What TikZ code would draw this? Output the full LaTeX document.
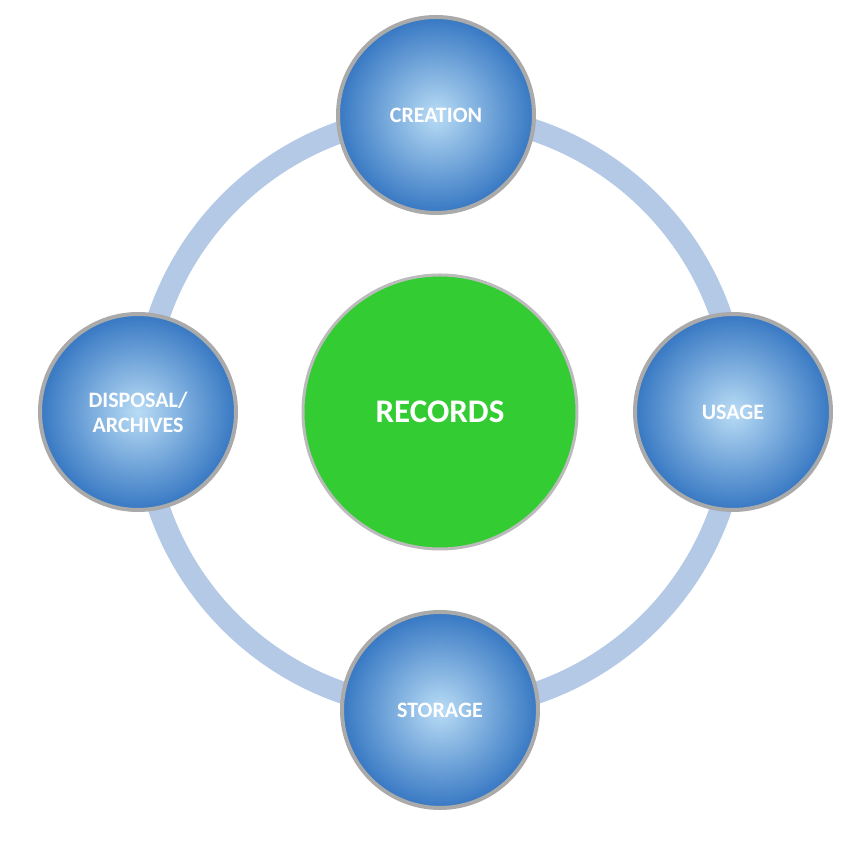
\documentclass[tikz,border=0pt]{standalone}
\usepackage{fontspec}
\setmainfont{Carlito}
\definecolor{ringc}{RGB}{180,201,230}
\definecolor{bin}{RGB}{185,220,245}
\definecolor{bout}{RGB}{55,120,195}
\definecolor{grn}{RGB}{51,204,51}
\definecolor{rim}{RGB}{170,170,170}
\begin{document}
\begin{tikzpicture}[x=1pt,y=1pt,
 stage/.style={circle,minimum size=196pt,draw=rim,line width=4pt,inner color=bin,outer color=bout,text=white,font=\bfseries\fontsize{22}{25}\selectfont,align=center},
 hub/.style={circle,minimum size=274pt,draw=rim!80,line width=3pt,fill=grn,text=white,font=\bfseries\fontsize{33}{36}\selectfont}]
\useasboundingbox (0,0) rectangle (863,845);
\coordinate (c) at (440,433);
\draw[ringc,line width=22pt] (c) circle[radius=297];
\node[hub] (rec) at (c) {RECORDS};
\node[stage] (cre) at (436,730) {CREATION};
\node[stage] (use) at (733,433) {USAGE};
\node[stage] (sto) at (440,135) {STORAGE};
\node[stage] (dis) at (138,433) {DISPOSAL/\\ARCHIVES};
\end{tikzpicture}
\end{document}
